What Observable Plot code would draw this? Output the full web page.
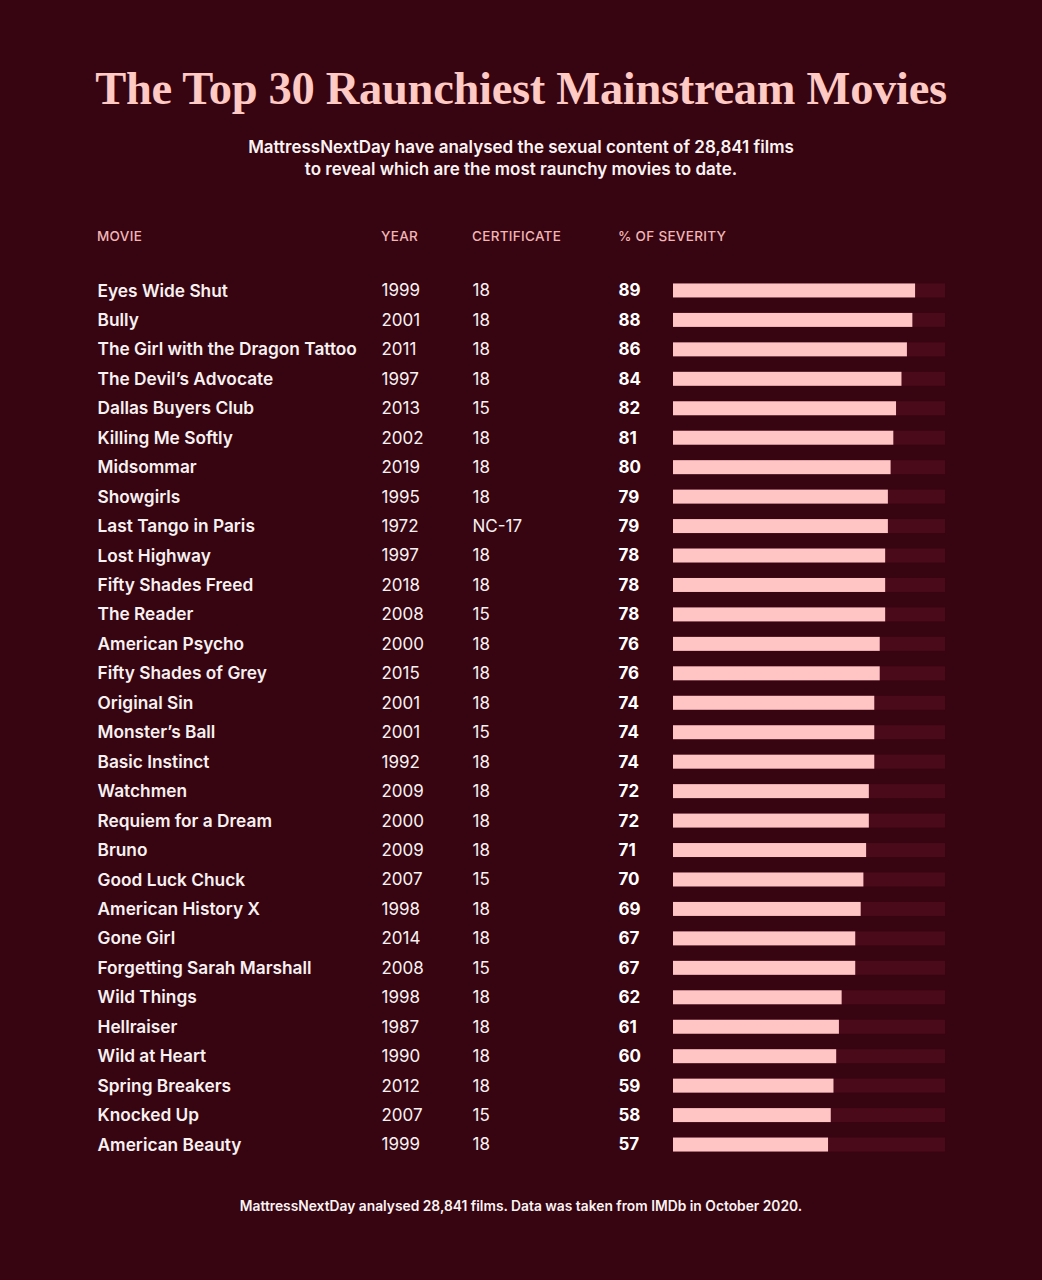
<!DOCTYPE html>
<html>
<head>
<meta charset="utf-8">
<script src="https://cdn.jsdelivr.net/npm/d3@7"></script>
<script src="https://cdn.jsdelivr.net/npm/@observablehq/plot@0.6"></script>
<style>
  html, body { margin: 0; padding: 0; }
  body { width: 1042px; height: 1280px; background: #370511; position: relative; overflow: hidden; font-family: Inter, "Open Sans", sans-serif; }
  .abs { position: absolute; }
  #title { left: 0; width: 1042px; top: 62px; text-align: center; font-family: "Liberation Serif", "DejaVu Serif", serif; font-weight: 700; font-size: 46.5px; color: #FFC9C4; letter-spacing: -0.3px; }
  #subtitle { left: 0; width: 1042px; top: 136px; text-align: center; color: #FBF3F3; font-size: 17px; font-weight: 600; line-height: 22px; }
  .hdr { top: 228px; color: #F2B6B6; font-size: 13.5px; font-weight: 500; letter-spacing: 0.3px; }
  #footer { left: 0; width: 1042px; top: 1198px; text-align: center; color: #FBF3F3; font-size: 13.8px; font-weight: 600; }
  #chart { left: 0; top: 0; }
</style>
</head>
<body>
<div id="title" class="abs">The Top 30 Raunchiest Mainstream Movies</div>
<div id="subtitle" class="abs">MattressNextDay have analysed the sexual content of 28,841 films<br>to reveal which are the most raunchy movies to date.</div>
<div class="abs hdr" style="left:97px">MOVIE</div>
<div class="abs hdr" style="left:381px">YEAR</div>
<div class="abs hdr" style="left:472px">CERTIFICATE</div>
<div class="abs hdr" style="left:618px">% OF SEVERITY</div>
<div id="chart" class="abs"></div>
<div id="footer" class="abs">MattressNextDay analysed 28,841 films. Data was taken from IMDb in October 2020.</div>
<script>
const movies = ["Eyes Wide Shut","Bully","The Girl with the Dragon Tattoo","The Devil\u2019s Advocate","Dallas Buyers Club","Killing Me Softly","Midsommar","Showgirls","Last Tango in Paris","Lost Highway","Fifty Shades Freed","The Reader","American Psycho","Fifty Shades of Grey","Original Sin","Monster\u2019s Ball","Basic Instinct","Watchmen","Requiem for a Dream","Bruno","Good Luck Chuck","American History X","Gone Girl","Forgetting Sarah Marshall","Wild Things","Hellraiser","Wild at Heart","Spring Breakers","Knocked Up","American Beauty"];
const years = [1999,2001,2011,1997,2013,2002,2019,1995,1972,1997,2018,2008,2000,2015,2001,2001,1992,2009,2000,2009,2007,1998,2014,2008,1998,1987,1990,2012,2007,1999];
const certificates = ["18","18","18","18","15","18","18","18","NC-17","18","18","15","18","18","18","15","18","18","18","18","15","18","18","15","18","18","18","18","15","18"];
const severity = [89,88,86,84,82,81,80,79,79,78,78,78,76,76,74,74,74,72,72,71,70,69,67,67,62,61,60,59,58,57];
const maxSeverity = 100;

const data = movies.map((m, i) => ({movie: m, year: String(years[i]), cert: certificates[i], value: severity[i], max: maxSeverity}));

const chart = Plot.plot({
  width: 1042,
  height: 1167,
  marginTop: 268,
  marginBottom: 0,
  marginLeft: 673,
  marginRight: 97,
  style: {background: "transparent", fontFamily: "Inter, 'Open Sans', sans-serif", overflow: "visible"},
  x: {domain: [0, 100], axis: null},
  y: {domain: movies, axis: null, padding: 0.525, round: false},
  marks: [
    Plot.barX(data, {x: "max", y: "movie", fill: "#4A0A19"}),
    Plot.barX(data, {x: "value", y: "movie", fill: "#FFC4C4"}),
    Plot.text(data, {y: "movie", text: "movie", frameAnchor: "left", textAnchor: "start", dx: -576, fill: "#F8F1F1", fontSize: 17.3, fontWeight: 600}),
    Plot.text(data, {y: "movie", text: "year", frameAnchor: "left", textAnchor: "start", dx: -292, fill: "#F8F1F1", fontSize: 17, fontWeight: 400}),
    Plot.text(data, {y: "movie", text: "cert", frameAnchor: "left", textAnchor: "start", dx: -201, fill: "#F8F1F1", fontSize: 17, fontWeight: 400}),
    Plot.text(data, {y: "movie", text: d => String(d.value), frameAnchor: "left", textAnchor: "start", dx: -55, fill: "#FFFFFF", fontSize: 17, fontWeight: 700})
  ]
});
document.getElementById("chart").appendChild(chart);
</script>
</body>
</html>
